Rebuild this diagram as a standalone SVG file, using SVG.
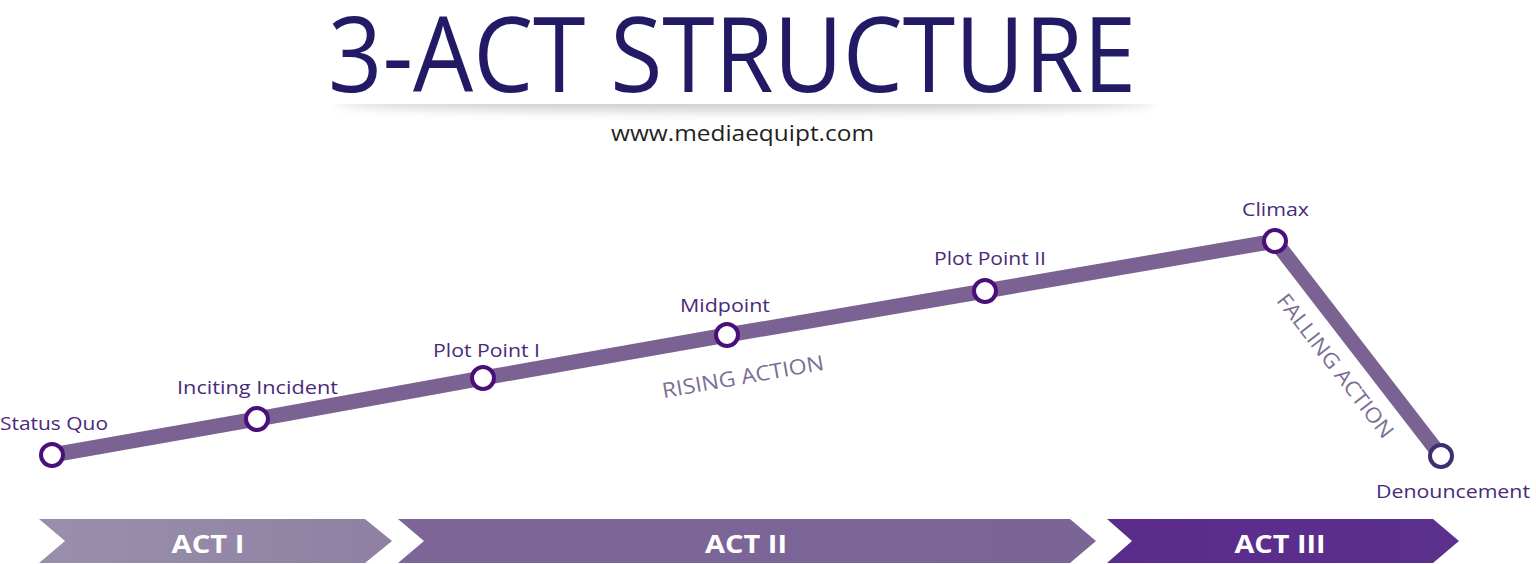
<svg xmlns="http://www.w3.org/2000/svg" width="1536" height="564" viewBox="0 0 1536 564">
<style>
.title{font-family:"Open Sans","Liberation Sans",sans-serif;font-size:104px;fill:#231a66;}
.url{font-family:"Open Sans","Liberation Sans",sans-serif;font-size:22px;fill:#231f20;}
.lbl{font-family:"Open Sans","Liberation Sans",sans-serif;font-size:19px;fill:#4b2a7b;}
.act{font-family:"Open Sans","Liberation Sans",sans-serif;font-size:25px;font-weight:bold;fill:#ffffff;text-anchor:middle;}
.phase{font-family:"Open Sans","Liberation Sans",sans-serif;font-size:21px;fill:#7d6f94;text-anchor:middle;}
.node{fill:#ffffff;stroke:#4a0f78;stroke-width:4;}
.conn{fill:none;stroke:#7a6392;stroke-width:15;stroke-linejoin:round;}
</style>
<defs>
<filter id="blur" x="-10%" y="-200%" width="120%" height="500%"><feGaussianBlur stdDeviation="6"/></filter>
<clipPath id="shclip"><rect x="0" y="104" width="1536" height="40"/></clipPath>
<linearGradient id="g1" x1="0" y1="0" x2="1" y2="0"><stop offset="0" stop-color="#998fab"/><stop offset="1" stop-color="#8f80a3"/></linearGradient>
<linearGradient id="g2" x1="0" y1="0" x2="1" y2="0"><stop offset="0" stop-color="#7d6598"/><stop offset="1" stop-color="#7b6496"/></linearGradient>
<linearGradient id="g3" x1="0" y1="0" x2="1" y2="0"><stop offset="0" stop-color="#5a2b8b"/><stop offset="1" stop-color="#5c308d"/></linearGradient>
</defs>
<rect width="1536" height="564" fill="#ffffff"/>
<g id="title">
<g clip-path="url(#shclip)"><ellipse cx="745" cy="102" rx="410" ry="9" fill="#000" opacity="0.2" filter="url(#blur)"/></g>
<text class="title" x="328" y="92" textLength="808" lengthAdjust="spacingAndGlyphs">3-ACT STRUCTURE</text>
<text class="url" x="611" y="141" textLength="263" lengthAdjust="spacingAndGlyphs">www.mediaequipt.com</text>
</g>
<g id="connectors">
<polyline class="conn" points="52,455 257,419 483,378 727,335 985,291 1275,241"/>
<line class="conn" x1="1275" y1="241" x2="1441" y2="456"/>
<text class="phase" transform="translate(743,377) rotate(-10)" x="0" y="7" textLength="164" lengthAdjust="spacingAndGlyphs">RISING ACTION</text>
<text class="phase" transform="translate(1335,366) rotate(52.3)" x="0" y="7" textLength="176" lengthAdjust="spacingAndGlyphs">FALLING ACTION</text>
</g>
<g id="status-quo"><circle class="node" cx="52" cy="455" r="11"/><text class="lbl" x="0" y="430" textLength="108" lengthAdjust="spacingAndGlyphs">Status Quo</text></g>
<g id="inciting-incident"><circle class="node" cx="257" cy="419" r="11"/><text class="lbl" x="177" y="394" textLength="161" lengthAdjust="spacingAndGlyphs">Inciting Incident</text></g>
<g id="plot-point-1"><circle class="node" cx="483" cy="378" r="11"/><text class="lbl" x="433" y="357" textLength="107" lengthAdjust="spacingAndGlyphs">Plot Point I</text></g>
<g id="midpoint"><circle class="node" cx="727" cy="335" r="11"/><text class="lbl" x="680" y="312" textLength="90" lengthAdjust="spacingAndGlyphs">Midpoint</text></g>
<g id="plot-point-2"><circle class="node" cx="985" cy="291" r="11"/><text class="lbl" x="934" y="265" textLength="112" lengthAdjust="spacingAndGlyphs">Plot Point II</text></g>
<g id="climax"><circle class="node" cx="1275" cy="241" r="11"/><text class="lbl" x="1242" y="216" textLength="67" lengthAdjust="spacingAndGlyphs">Climax</text></g>
<g id="denouncement"><circle class="node" cx="1441" cy="456" r="11" style="stroke:#3e2e70"/><text class="lbl" x="1376" y="498" textLength="154" lengthAdjust="spacingAndGlyphs">Denouncement</text></g>
<g id="act-1"><polygon points="39,519 365,519 392,541 365,563 39,563 65,541" fill="url(#g1)"/><text class="act" x="208" y="553" textLength="73" lengthAdjust="spacingAndGlyphs">ACT I</text></g>
<g id="act-2"><polygon points="398,519 1070,519 1096,541 1070,563 398,563 424,541" fill="url(#g2)"/><text class="act" x="746" y="553" textLength="82" lengthAdjust="spacingAndGlyphs">ACT II</text></g>
<g id="act-3"><polygon points="1107,519 1433,519 1459,541 1433,563 1107,563 1132,541" fill="url(#g3)"/><text class="act" x="1280" y="553" textLength="91" lengthAdjust="spacingAndGlyphs">ACT III</text></g>
</svg>
